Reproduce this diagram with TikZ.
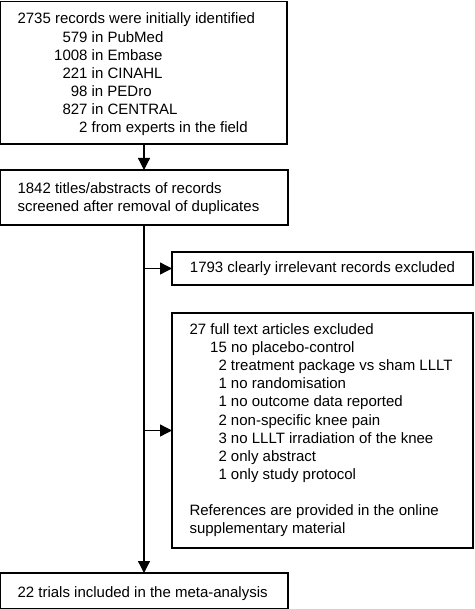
\documentclass[tikz,border=0pt]{standalone}
\usepackage{fontspec}
\setmainfont{Liberation Sans}
\usetikzlibrary{arrows.meta}
\begin{document}
\begin{tikzpicture}[x=1pt,y=-1pt,
  box/.style={draw,line width=1.3pt,inner sep=0pt,outer sep=0pt,anchor=north west},
  txt/.style={anchor=base west,inner sep=0pt,font=\fontsize{15}{18}\selectfont},
  arr/.style={line width=1.3pt,-{Triangle[length=12pt,width=12pt]}}]
\useasboundingbox (0,0) rectangle (474,609);
% boxes
\node[box,minimum width=286.4pt,minimum height=142.5pt] (b1) at (0.6,1.5) {};
\node[box,minimum width=287.4pt,minimum height=55pt] (b2) at (0.6,170) {};
\node[box,minimum width=301pt,minimum height=33pt] (b3) at (172,252) {};
\node[box,minimum width=301pt,minimum height=235pt] (b4) at (172,313) {};
\node[box,minimum width=287.4pt,minimum height=35.5pt] (b5) at (0.6,573) {};
% box 1 text
\node[txt] (t1a) at (17.3,24) {2735 records were initially identified};
\node[txt] (t1b) at (62.3,42.1) {579 in PubMed};
\node[txt] (t1c) at (54,60.2) {1008 in Embase};
\node[txt] (t1d) at (62.3,78.3) {221 in CINAHL};
\node[txt] (t1e) at (70.6,96.4) {98 in PEDro};
\node[txt] (t1f) at (62.3,114.5) {827 in CENTRAL};
\node[txt] (t1g) at (79,132.6) {2 from experts in the field};
% box 2 text
\node[txt] (t2a) at (17.3,193.5) {1842 titles/abstracts of records};
\node[txt] (t2b) at (17.3,211.6) {screened after removal of duplicates};
% box 3 text
\node[inner sep=0pt,font=\fontsize{15}{18}\selectfont] (t3) at (b3.center) {1793 clearly irrelevant records excluded};
% box 4 text
\node[txt] (t4a) at (189.3,334.5) {27 full text articles excluded};
\node[txt] (t4b) at (210,352.6) {15 no placebo-control};
\node[txt] (t4c) at (218.3,370.7) {2 treatment package vs sham LLLT};
\node[txt] (t4d) at (218.3,388.8) {1 no randomisation};
\node[txt] (t4e) at (218.3,406.9) {1 no outcome data reported};
\node[txt] (t4f) at (218.3,425) {2 non-specific knee pain};
\node[txt] (t4g) at (218.3,443.1) {3 no LLLT irradiation of the knee};
\node[txt] (t4h) at (218.3,461.2) {2 only abstract};
\node[txt] (t4i) at (218.3,479.3) {1 only study protocol};
\node[txt] (t4j) at (189.3,515.5) {References are provided in the online};
\node[txt] (t4k) at (189.3,533.6) {supplementary material};
% box 5 text
\node[txt] (t5) at (17.3,597) {22 trials included in the meta-analysis};
% connectors
\coordinate (top) at (144,144);
\draw[arr] (top) -- (top |- b2.north);
\draw[arr] (top |- b2.south) -- (top |- b5.north);
\draw[arr] (top |- b3.west) -- (b3.west);
\draw[arr] (top |- b4.west) -- (b4.west);
\end{tikzpicture}
\end{document}
